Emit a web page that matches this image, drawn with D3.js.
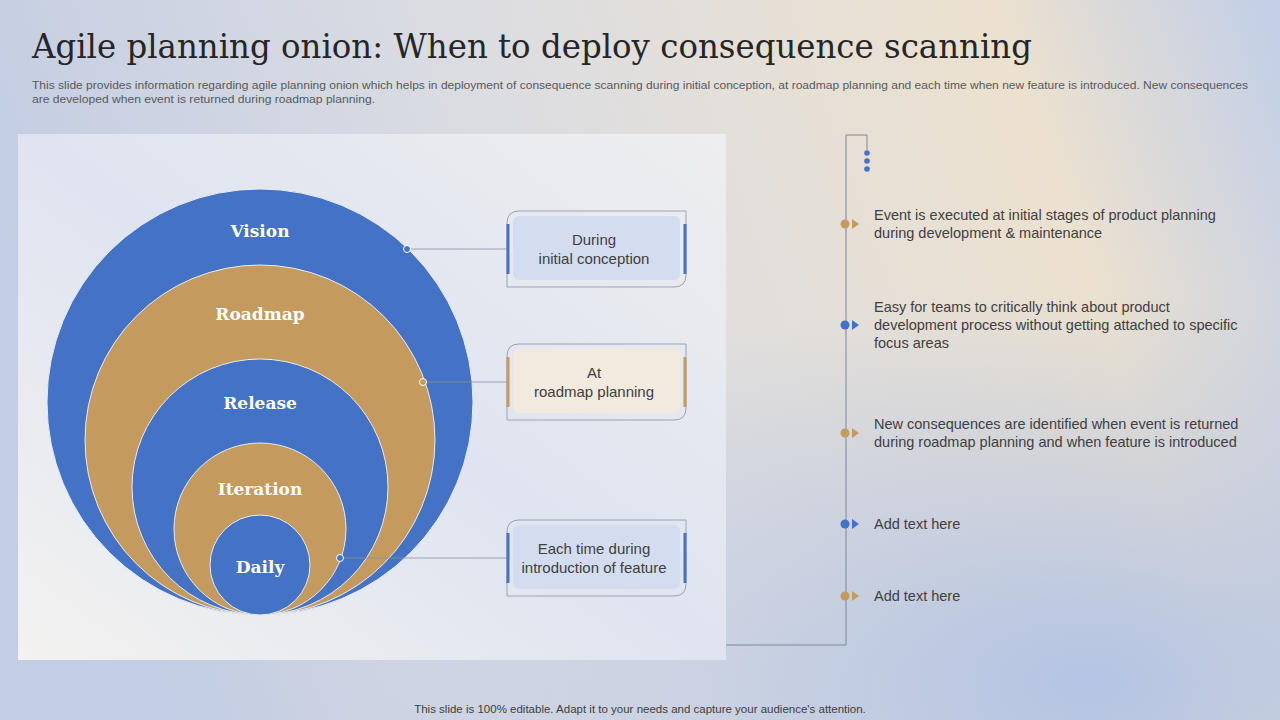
<!DOCTYPE html>
<html><head><meta charset="utf-8">
<script src="https://cdn.jsdelivr.net/npm/d3@7"></script>
<style>body{margin:0;overflow:hidden}svg{display:block;font-family:"Liberation Sans",Arial,sans-serif}</style>
</head><body>
<script>
// onion layers, outer to inner (radius in px of the slide)
var layerNames = ["Vision", "Roadmap", "Release", "Iteration", "Daily"];
var layerRadius = [213, 175, 128, 86, 50];
var layerLabelY = [231, 314, 403, 489, 567];
var stageText = [["During", "initial conception"], ["At", "roadmap planning"], ["Each time during", "introduction  of feature"]];
var stageY = [249, 382, 558];
var stageDotX = [407, 423, 340];
var pointText = [
  ["Event is executed at initial stages of product planning", "during development & maintenance"],
  ["Easy for teams to critically think about product", "development process without getting attached to specific", "focus areas"],
  ["New consequences are identified when event is returned", "during roadmap planning and when feature is introduced"],
  ["Add text here"],
  ["Add text here"]
];
var pointY = [224, 325, 433, 524, 596];

var BLUE = "#4472c4", GOLD = "#c49a5e";
var svg = d3.select("body").append("svg").attr("width", 1280).attr("height", 720);
var defs = svg.append("defs");

var bg = defs.append("linearGradient").attr("id", "bg").attr("x1", 0).attr("y1", 0.3).attr("x2", 1).attr("y2", 0.1);
bg.append("stop").attr("offset", 0).attr("stop-color", "#c3cde3");
bg.append("stop").attr("offset", 0.4).attr("stop-color", "#dcdde2");
bg.append("stop").attr("offset", 0.8).attr("stop-color", "#ece1cf");
bg.append("stop").attr("offset", 1).attr("stop-color", "#c5d0e6");
var bg2 = defs.append("radialGradient").attr("id", "bg2").attr("cx", 0.85).attr("cy", 0.95).attr("r", 0.55);
bg2.append("stop").attr("offset", 0).attr("stop-color", "#b4c4e4").attr("stop-opacity", 1);
bg2.append("stop").attr("offset", 1).attr("stop-color", "#b4c4e4").attr("stop-opacity", 0);
var pg = defs.append("linearGradient").attr("id", "pg").attr("x1", 0).attr("y1", 1).attr("x2", 1).attr("y2", 0);
pg.append("stop").attr("offset", 0).attr("stop-color", "#f3f2f0");
pg.append("stop").attr("offset", 0.5).attr("stop-color", "#dfe4f0");
pg.append("stop").attr("offset", 1).attr("stop-color", "#eeeeef");

svg.append("rect").attr("width", 1280).attr("height", 720).attr("fill", "url(#bg)");
svg.append("rect").attr("width", 1280).attr("height", 720).attr("fill", "url(#bg2)");

svg.append("text").attr("x", 32).attr("y", 58).attr("font-family", "'DejaVu Serif',Georgia,serif")
  .attr("font-size", 33).attr("fill", "#262626").attr("textLength", 1000).attr("lengthAdjust", "spacingAndGlyphs")
  .text("Agile planning onion: When to deploy consequence scanning");
svg.append("text").attr("font-size", 11.5).attr("fill", "#595959").selectAll("tspan")
  .data(["This slide provides information regarding agile planning onion which helps in deployment of consequence scanning during initial conception, at roadmap planning and each time when new feature is introduced. New consequences",
         "are developed when event is returned during roadmap planning."])
  .join("tspan").attr("x", 32).attr("y", function (d, i) { return 89 + i * 14; })
  .attr("textLength", function (d, i) { return i ? 343 : 1216; }).attr("lengthAdjust", "spacingAndGlyphs")
  .text(function (d) { return d; });

svg.append("rect").attr("x", 18).attr("y", 134).attr("width", 708).attr("height", 526).attr("fill", "url(#pg)");

// onion circles, all tangent at the bottom
var base = 615, cx = 260;
svg.selectAll("circle.layer").data(layerRadius).join("circle").attr("class", "layer")
  .attr("cx", cx).attr("cy", function (r) { return base - r; }).attr("r", function (r) { return r; })
  .attr("fill", function (r, i) { return i % 2 ? GOLD : BLUE; })
  .attr("stroke", "#e8ecf4").attr("stroke-width", 1);
svg.selectAll("text.layer").data(layerNames).join("text").attr("class", "layer")
  .attr("x", cx).attr("y", function (d, i) { return layerLabelY[i] + 6; }).attr("text-anchor", "middle")
  .attr("font-family", "'DejaVu Serif',Georgia,serif").attr("font-weight", "bold").attr("font-size", 17)
  .attr("fill", "#fff").text(function (d) { return d; });

// stage callouts
var stage = svg.selectAll("g.stage").data(stageText).join("g").attr("class", "stage");
stage.append("line").attr("x1", function (d, i) { return stageDotX[i]; }).attr("x2", 507)
  .attr("y1", function (d, i) { return stageY[i]; }).attr("y2", function (d, i) { return stageY[i]; })
  .attr("stroke", "#8a93a6").attr("stroke-width", 0.8);
stage.append("circle").attr("cx", function (d, i) { return stageDotX[i]; }).attr("cy", function (d, i) { return stageY[i]; })
  .attr("r", 3.5).attr("fill", function (d, i) { return i === 1 ? GOLD : BLUE; }).attr("stroke", "#fff").attr("stroke-width", 1);
stage.append("path").attr("fill", "none").attr("stroke", "#9aa3b5").attr("stroke-width", 1)
  .attr("d", function (d, i) { var y = stageY[i] - 38, x = 507;
    return "M" + (x + 12) + "," + y + " H" + (x + 179) + " V" + (y + 64) + " Q" + (x + 179) + "," + (y + 76) + " " + (x + 167) + "," + (y + 76) +
      " H" + x + " V" + (y + 12) + " Q" + x + "," + y + " " + (x + 12) + "," + y; });
stage.append("rect").attr("x", 513).attr("y", function (d, i) { return stageY[i] - 33; }).attr("width", 167).attr("height", 64).attr("rx", 6)
  .attr("fill", function (d, i) { return i === 1 ? "#f2eadf" : "#d3ddef"; });
[508, 685].forEach(function (x) {
  stage.append("rect").attr("x", x - 1.5).attr("y", function (d, i) { return stageY[i] - 25; }).attr("width", 3).attr("height", 50)
    .attr("fill", function (d, i) { return i === 1 ? GOLD : BLUE; });
});
stage.append("text").attr("text-anchor", "middle").attr("font-size", 15).attr("fill", "#404040")
  .selectAll("tspan").data(function (d, i) { return d.map(function (t, j) { return { t: t, y: stageY[i] - 4 + j * 19 }; }); })
  .join("tspan").attr("x", 594).attr("y", function (d) { return d.y; }).text(function (d) { return d.t; });

// timeline on the right
var tl = svg.append("g").attr("stroke", "#7f8799").attr("stroke-width", 1).attr("fill", "none");
tl.append("path").attr("d", "M867,150 V135 H846 V645 H726");
svg.selectAll("circle.dots").data([153, 161, 169]).join("circle").attr("class", "dots")
  .attr("cx", 867).attr("cy", function (d) { return d; }).attr("r", 2.8).attr("fill", BLUE);
var pt = svg.selectAll("g.pt").data(pointText).join("g").attr("class", "pt")
  .attr("transform", function (d, i) { return "translate(0," + pointY[i] + ")"; });
pt.append("circle").attr("cx", 845).attr("r", 4.5).attr("fill", function (d, i) { return i % 2 ? BLUE : GOLD; });
pt.append("path").attr("d", "M852,-5 L859,0 L852,5 Z").attr("fill", function (d, i) { return i % 2 ? BLUE : GOLD; });
pt.append("text").attr("font-size", 14.5).attr("fill", "#404040")
  .selectAll("tspan").data(function (d) { var n = d.length; return d.map(function (t, j) { return { t: t, y: 5 - (n - 1) * 9 + j * 18 }; }); })
  .join("tspan").attr("x", 874).attr("y", function (d) { return d.y; }).text(function (d) { return d.t; });

svg.append("text").attr("x", 640).attr("y", 713).attr("text-anchor", "middle").attr("font-size", 11.5).attr("fill", "#404040")
  .text("This slide is 100% editable. Adapt it to your needs and capture your audience's attention.");
</script>
</body></html>
